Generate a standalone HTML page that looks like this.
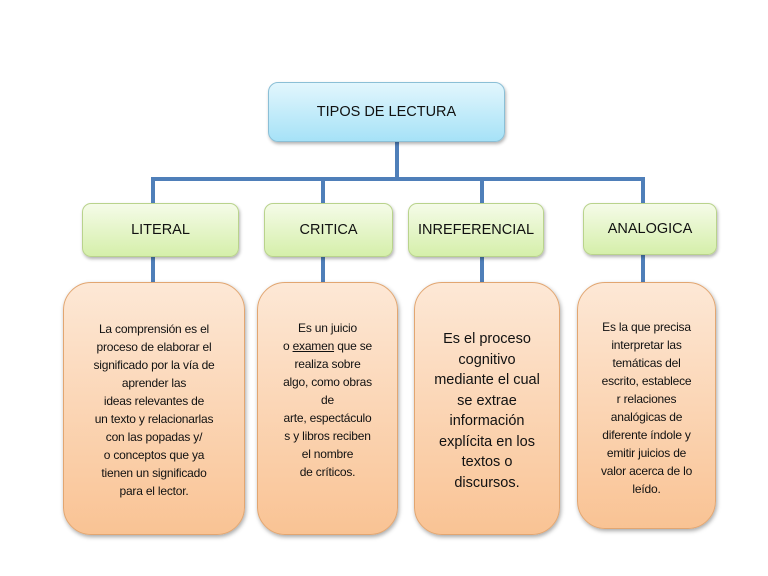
<!DOCTYPE html>
<html><head><meta charset="utf-8"><style>
body{margin:0;width:768px;height:576px;background:#fff;position:relative;overflow:hidden;font-family:"Liberation Sans",sans-serif;}
.b{position:absolute;box-sizing:border-box;display:flex;align-items:center;justify-content:center;text-align:center;color:#111;}
.top{left:268px;top:82px;width:237px;height:60px;border-radius:10px;border:1px solid #8bbfd6;background:linear-gradient(#e2f6fd,#a6e2f7);box-shadow:1px 2px 3px rgba(0,0,0,.3);font-size:14.5px;}
.g{top:203px;height:54px;border-radius:9px;border:1px solid #b9d38c;background:linear-gradient(#f5fbe8,#d5efaa);box-shadow:1px 2px 3px rgba(0,0,0,.3);font-size:14.5px;}
.o{position:absolute;box-sizing:border-box;text-align:center;color:#111;top:282px;height:253px;border-radius:28px;border:1px solid #e2a671;background:linear-gradient(#fde8d6,#f9c394);box-shadow:1px 2px 4px rgba(0,0,0,.35);font-size:12px;line-height:18px;letter-spacing:-0.2px;}
.l{position:absolute;background:#4f7fb9;}
</style></head><body>
<div class="l" style="left:395px;top:142px;width:4px;height:39px"></div>
<div class="l" style="left:151px;top:177px;width:494px;height:4px"></div>
<div class="l" style="left:151px;top:177px;width:4px;height:26px"></div>
<div class="l" style="left:321px;top:177px;width:4px;height:26px"></div>
<div class="l" style="left:480px;top:177px;width:4px;height:26px"></div>
<div class="l" style="left:641px;top:177px;width:4px;height:26px"></div>
<div class="l" style="left:151px;top:257px;width:4px;height:26px"></div>
<div class="l" style="left:321px;top:257px;width:4px;height:26px"></div>
<div class="l" style="left:480px;top:257px;width:4px;height:26px"></div>
<div class="l" style="left:641px;top:255px;width:4px;height:28px"></div>
<div class="b top">TIPOS DE LECTURA</div>
<div class="b g" style="left:82px;width:157px">LITERAL</div>
<div class="b g" style="left:264px;width:129px">CRITICA</div>
<div class="b g" style="left:408px;width:136px">INREFERENCIAL</div>
<div class="b g" style="left:583px;width:134px;height:52px">ANALOGICA</div>
<div class="o" style="left:63px;width:182px;padding-top:37px">La comprensión es el<br>proceso de elaborar el<br>significado por la vía de<br>aprender las<br>ideas relevantes de<br>un texto y relacionarlas<br>con las popadas y/<br>o conceptos que ya<br>tienen un significado<br>para el lector.</div>
<div class="o" style="left:257px;width:141px;padding-top:36px;white-space:nowrap">Es un juicio<br>o <u>examen</u> que se<br>realiza sobre<br>algo, como obras<br>de<br>arte, espectáculo<br>s y libros reciben<br>el nombre<br>de críticos.</div>
<div class="o" style="left:414px;width:146px;padding-top:46px;font-size:14.5px;line-height:20.5px;letter-spacing:0">Es el proceso<br>cognitivo<br>mediante el cual<br>se extrae<br>información<br>explícita en los<br>textos o<br>discursos.</div>
<div class="o" style="left:577px;width:139px;height:247px;padding-top:35px;white-space:nowrap">Es la que precisa<br>interpretar las<br>temáticas del<br>escrito, establece<br>r relaciones<br>analógicas de<br>diferente índole y<br>emitir juicios de<br>valor acerca de lo<br>leído.</div>
</body></html>
